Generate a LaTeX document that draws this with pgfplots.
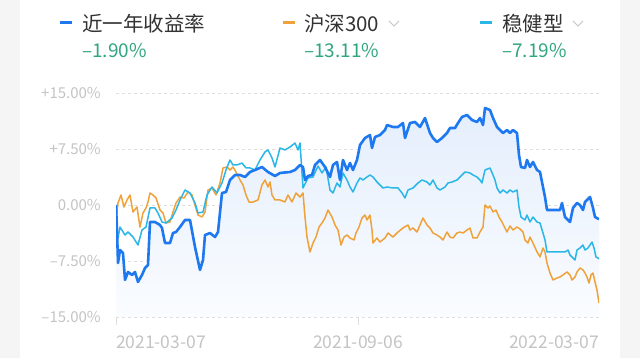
\documentclass[border=0pt]{standalone}
\usepackage{fontspec}
\setmainfont{Noto Sans CJK SC}
\usepackage{pgfplots}
\usepackage{pgfplotstable}
\pgfplotsset{compat=1.18}
\definecolor{cblue}{RGB}{30,120,240}
\definecolor{corange}{RGB}{240,162,58}
\definecolor{ccyan}{RGB}{43,182,232}
\definecolor{cgreen}{RGB}{48,166,128}
\definecolor{ctick}{RGB}{196,196,196}
\definecolor{cgrid}{RGB}{222,222,222}
\definecolor{cbg}{RGB}{245,245,245}
\definecolor{ctext}{RGB}{51,51,51}
\definecolor{cfilltop}{RGB}{228,238,252}
\definecolor{cfillbot}{RGB}{250,252,255}

\pgfplotstableread{
x y
116 0
117 -3.35
118 -7.77
120 -6.03
123 -6.43
125 -10.04
128 -8.97
132 -9.37
135 -8.97
138 -10.31
142 -9.37
145 -8.44
148 -8.04
150 -2.28
155 -2.28
160 -2.68
162 -3.08
165 -5.09
170 -5.09
173 -3.75
176 -3.62
180 -2.95
185 -2.01
190 -2.01
195 -5.62
200 -8.70
203 -7.37
205 -4.02
210 -3.75
215 -4.29
218 -3.62
222 1.61
226 1.74
230 3.35
235 4.02
240 4.02
245 3.75
250 4.42
255 4.69
262 5.09
268 4.42
275 3.88
280 4.29
290 4.42
295 4.69
300 5.36
303 5.09
305 3.35
308 3.88
312 4.02
315 5.36
320 6.03
325 5.09
330 3.75
333 5.36
337 5.76
340 3.35
343 6.03
347 4.69
350 5.62
353 4.69
357 6.03
360 8.04
365 8.97
370 9.37
372 7.63
375 9.11
380 9.37
385 10.04
387 10.71
393 10.45
398 10.45
403 10.98
405 8.97
410 10.98
415 11.12
420 10.45
425 11.65
430 9.64
433 8.97
437 8.44
442 8.97
447 9.64
450 10.31
455 10.31
458 10.98
462 11.79
467 12.05
472 11.38
477 11.12
480 11.65
483 10.71
485 12.99
490 12.72
493 11.65
497 10.45
500 10.04
503 9.64
507 10.04
510 9.64
513 10.04
517 9.64
519 6.70
521 5.09
525 4.96
527 6.03
530 5.09
533 5.76
537 4.69
540 4.42
543 2.41
545 1.07
547 -0.67
553 -0.67
560 -0.67
562 0.27
565 -1.61
570 -2.28
573 -0.40
577 0.27
580 0
583 -0.67
585 0.40
590 1.07
593 -0.40
595 -1.61
599 -1.90
}\blueT

\pgfplotstableread{
x y
116 -2.68
118 -4.42
120 -2.95
125 -4.02
128 -3.62
133 -4.29
138 -5.36
142 -3.35
146 -2.95
150 -0.40
155 -0.40
158 -1.07
162 -2.28
166 -2.41
172 -1.74
176 -0.67
180 0.67
185 2.01
190 1.61
195 0.27
198 -1.07
203 -0.94
207 1.34
212 2.41
217 1.61
222 2.95
226 4.69
230 6.03
233 5.36
237 5.36
242 5.62
246 4.96
250 4.96
255 4.69
260 6.03
265 7.10
268 7.37
272 6.29
275 5.09
280 7.63
285 7.37
290 7.77
295 8.30
298 7.37
300 8.30
303 2.28
308 3.62
313 3.75
318 5.22
322 4.29
326 5.09
330 2.01
333 1.61
337 2.95
340 2.41
343 4.29
347 3.35
350 2.41
353 1.74
357 2.95
360 3.62
363 3.35
367 3.75
370 4.02
373 3.75
377 3.08
380 2.68
383 2.28
387 2.41
393 2.28
398 2.28
402 1.61
405 0.94
408 2.01
413 2.28
418 2.95
422 3.35
427 3.08
430 2.68
433 3.35
437 2.28
440 2.01
445 2.41
448 2.95
452 3.08
457 3.35
462 4.02
465 4.42
470 4.29
473 4.02
477 3.75
480 3.35
482 2.95
485 4.69
490 4.96
493 4.02
495 3.35
497 2.28
500 1.61
503 2.01
507 1.61
510 2.01
513 1.74
517 2.01
519 -0.27
521 -1.61
525 -2.01
527 -1.34
530 -2.28
533 -1.61
537 -2.28
540 -2.41
543 -3.75
545 -4.69
547 -6.29
555 -6.29
565 -6.29
568 -6.03
570 -6.70
573 -7.10
575 -7.37
577 -6.03
580 -5.76
583 -5.36
585 -6.03
588 -5.76
590 -5.36
592 -4.96
594 -5.76
596 -6.96
599 -7.19
}\cyanT

\pgfplotstableread{
x y
116 -2.01
118 0.27
121 1.34
124 -0.27
127 0.67
130 1.34
133 -0.94
137 -0.27
140 -2.95
143 -1.07
146 -0.40
148 0.40
150 1.61
153 1.34
156 0.94
160 -0.67
163 -1.07
166 -2.41
170 -2.28
173 -0.94
176 0.27
180 1.07
184 0.94
188 1.74
192 1.34
195 0
198 -1.34
202 -1.61
205 -0.94
208 2.01
212 2.28
216 1.34
220 2.95
223 4.96
227 5.09
230 4.69
233 5.09
236 4.42
240 3.35
243 2.68
246 1.34
249 0.40
253 0.40
258 0.67
262 2.68
265 3.35
268 2.41
270 3.08
272 1.34
275 0.67
280 0.67
285 0.40
288 1.34
292 0.40
296 1.61
300 1.07
303 1.61
305 -1.61
307 -4.29
310 -6.29
313 -5.09
316 -4.29
319 -2.95
322 -2.41
325 -1.74
328 -0.67
332 -1.61
335 -2.68
338 -3.35
341 -5.36
344 -4.29
347 -4.02
350 -4.42
354 -4.69
356 -3.75
359 -2.95
362 -1.74
365 -1.34
367 -2.01
370 -1.34
372 -3.35
373 -5.09
377 -4.42
380 -4.96
385 -4.42
388 -3.75
393 -4.29
398 -3.62
403 -3.08
408 -2.68
410 -3.35
413 -3.08
417 -3.62
420 -2.68
423 -1.74
427 -2.68
430 -3.08
433 -3.75
437 -4.02
440 -4.29
443 -4.69
447 -3.62
450 -4.29
453 -4.42
457 -3.75
460 -3.62
463 -3.75
467 -3.35
470 -3.08
473 -4.42
477 -4.42
480 -3.62
483 -2.95
485 0
488 -0.40
490 -0.13
493 -0.94
496 -0.67
499 -1.61
502 -2.28
505 -3.08
507 -3.62
510 -2.81
513 -3.35
517 -2.95
520 -3.21
523 -3.62
525 -4.69
528 -5.09
530 -4.29
533 -5.09
537 -6.29
540 -6.96
543 -5.76
545 -6.29
547 -7.77
550 -9.11
553 -10.04
557 -9.78
560 -9.64
563 -9.37
567 -8.97
570 -9.37
572 -10.04
575 -9.64
577 -8.97
580 -8.44
583 -8.70
585 -9.11
587 -9.64
589 -10.45
591 -9.37
593 -9.11
595 -10.31
597 -11.38
599 -13.11
}\orangeT

\begin{document}
\begin{tikzpicture}
\useasboundingbox (0pt,0pt) rectangle (640pt,358pt);
\fill[cbg] (0pt,0pt) rectangle (640pt,358pt);
\fill[white] (20pt,0pt) rectangle (620pt,358pt);

% legend
\draw[cblue, line width=3pt] (60pt,335pt) -- (72pt,335pt);
\node[anchor=west, inner sep=0pt, text=ctext, font=\fontsize{20.5}{24}\selectfont] at (82pt,334pt) {近一年收益率};
\node[anchor=west, inner sep=0pt, text=cgreen, font=\fontsize{19}{22}\selectfont] at (82pt,307pt) {–1.90\%};
\draw[corange, line width=3pt] (283pt,335pt) -- (295pt,335pt);
\node[anchor=west, inner sep=0pt, text=ctext, font=\fontsize{20.5}{24}\selectfont] at (304pt,334pt) {沪深300};
\node[anchor=west, inner sep=0pt, text=cgreen, font=\fontsize{19}{22}\selectfont] at (304pt,307pt) {–13.11\%};
\draw[ctick, line width=1pt] (389pt,337pt) -- (394pt,332pt) -- (399pt,337pt);
\draw[ccyan, line width=3pt] (480pt,335pt) -- (492pt,335pt);
\node[anchor=west, inner sep=0pt, text=ctext, font=\fontsize{20.5}{24}\selectfont] at (502pt,334pt) {稳健型};
\node[anchor=west, inner sep=0pt, text=cgreen, font=\fontsize{19}{22}\selectfont] at (502pt,307pt) {–7.19\%};
\draw[ctick, line width=1pt] (573pt,337pt) -- (578pt,332pt) -- (583pt,337pt);

\begin{axis}[
  at={(116pt,41pt)}, anchor=south west,
  scale only axis, width=483pt, height=224pt,
  xmin=116, xmax=599, ymin=-15, ymax=15,
  axis x line*=bottom, axis y line*=left,
  axis line style={draw=none},
  ytick={-15,-7.5,0,7.5,15},
  yticklabels={–15.00\%,–7.50\%,0.00\%,+7.50\%,+15.00\%},
  xtick={116,358,599},
  xticklabels={\rlap{2021-03-07},2021-09-06,\llap{2022-03-07}},
  major tick length=0pt,
  extra x ticks={116,358},
  extra x tick labels={},
  extra x tick style={major tick length=8pt, tick style={draw=cgrid, line width=0.8pt}, tick align=outside, grid=none},
  ymajorgrids,
  grid style={draw=cgrid, line width=0.8pt, dash pattern=on 3pt off 3pt},
  yticklabel style={text=ctick, font=\fontsize{15}{18}\selectfont, inner sep=0pt, anchor=east, xshift=-15pt},
  xticklabel style={text=ctick, font=\fontsize{17.5}{20}\selectfont, inner sep=0pt, anchor=north, yshift=-19pt},
  clip=true,
]
\addplot[draw=none, top color=cfilltop, bottom color=cfillbot] table[x=x,y=y] {\blueT} -- (599,-15) -- (116,-15) -- cycle;
\addplot[draw=corange, line width=1.5pt, line join=round, mark=none] table[x=x,y=y] {\orangeT};
\addplot[draw=ccyan, line width=1.5pt, line join=round, mark=none] table[x=x,y=y] {\cyanT};
\addplot[draw=cblue, line width=2.6pt, line join=round, mark=none] table[x=x,y=y] {\blueT};
\end{axis}
\end{tikzpicture}
\end{document}
